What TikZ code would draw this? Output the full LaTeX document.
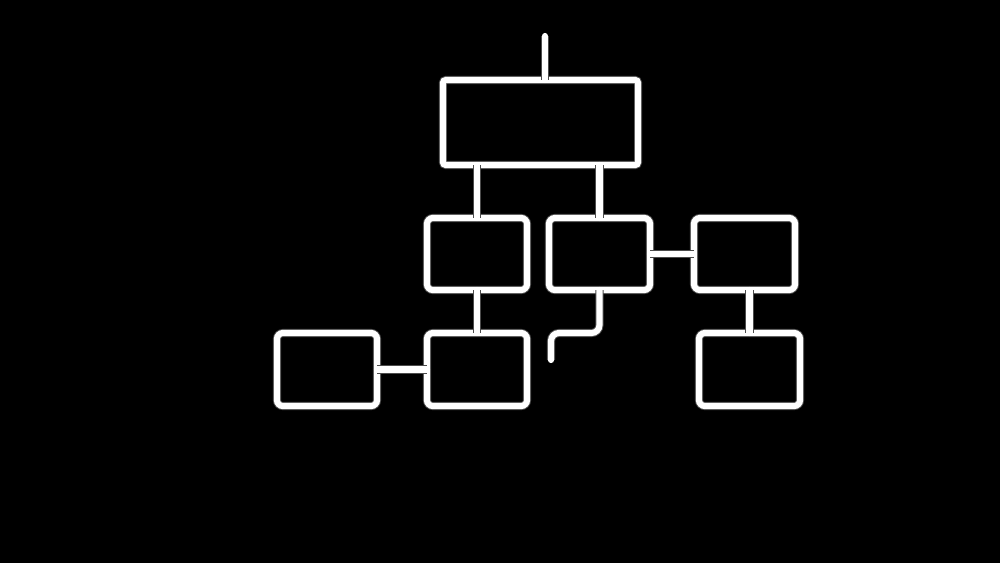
\documentclass[tikz,border=0pt]{standalone}
\begin{document}
\begin{tikzpicture}[x=0.01cm,y=-0.01cm,
  glowline/.style={draw=white!30!black, line width=2.3pt},
  box/.style={draw=white, line width=1.75pt, rectangle, rounded corners=0.06cm,
    inner sep=0pt, outer sep=0pt, preaction={glowline}},
  conn/.style={draw=white, line width=1.75pt, line cap=round, preaction={glowline}}]
\fill[black] (0,0) rectangle (1000,563);
\useasboundingbox (0,0) rectangle (1000,563);
\coordinate (tip) at (545,36);
\coordinate (bendcorner) at (551,333);
\coordinate (bendend) at (551,360);
\node[box, minimum width=1.95cm, minimum height=0.85cm, rounded corners=0.03cm] (top) at (540.5,122.5) {};
\node[box, minimum width=1.0cm, minimum height=0.72cm] (A) at (477,254) {};
\node[box, minimum width=1.01cm, minimum height=0.72cm] (B) at (599.5,254) {};
\node[box, minimum width=1.01cm, minimum height=0.72cm] (C) at (744.5,254) {};
\node[box, minimum width=1.0cm, minimum height=0.73cm] (D) at (477,369.5) {};
\node[box, minimum width=1.0cm, minimum height=0.73cm] (E) at (327,369.5) {};
\node[box, minimum width=1.01cm, minimum height=0.73cm] (F) at (749.5,369.5) {};
\draw[conn] (tip) -- (top.north -| tip);
\draw[conn] (top.south -| A.north) -- (A.north);
\draw[conn] (top.south -| B.north) -- (B.north);
\draw[conn] (B.east) -- (C.west);
\draw[conn] (A.south) -- (D.north);
\draw[conn] (E.east) -- (D.west);
\draw[conn] (F.north |- C.south) -- (F.north);
\draw[conn, rounded corners=0.08cm] (B.south) -- (B.south |- bendcorner) -- (bendcorner) -- (bendend);
\end{tikzpicture}
\end{document}
